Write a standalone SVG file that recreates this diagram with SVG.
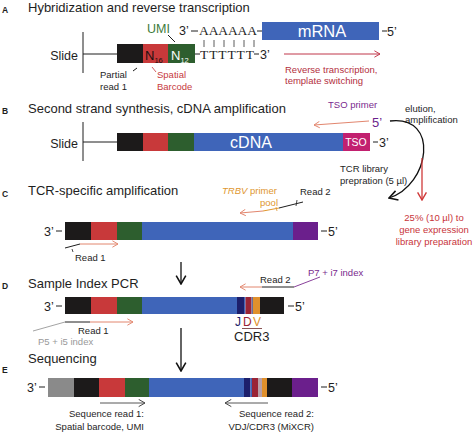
<svg xmlns="http://www.w3.org/2000/svg" width="474" height="434" viewBox="0 0 474 434">
<defs>
<style>
text{font-family:"Liberation Sans",Arial,sans-serif;fill:#1e1e1e}
.t{font-size:13px}
.L{font-size:8.5px;font-weight:bold}
.s{font-size:9.5px}
.m{font-size:12.5px}
.serif{font-family:"Liberation Serif","Times New Roman",serif;font-size:13.5px}
.ln{fill:none;stroke:#1e1e1e;stroke-width:1}
.bk{fill:#1c1a1a}.rd{fill:#c8393a}.gn{fill:#2d5e2e}.bl{fill:#3f65b9}.pu{fill:#6b1f8c}.mg{fill:#c2206f}.nv{fill:#1d1f6b}.dr{fill:#9a2436}.or{fill:#e0902c}.gy{fill:#8a8a8a}
.sal{fill:none;stroke:#e2866e;stroke-width:1}
</style>
<marker id="aSal" viewBox="0 0 10 10" refX="9" refY="5" markerWidth="8" markerHeight="8" markerUnits="userSpaceOnUse" orient="auto"><path d="M2,1 L9,5 L2,9" fill="none" stroke="#e2866e" stroke-width="1.2"/></marker>
<marker id="aRed" viewBox="0 0 10 10" refX="9" refY="5" markerWidth="8" markerHeight="8" markerUnits="userSpaceOnUse" orient="auto"><path d="M2,1 L9,5 L2,9" fill="none" stroke="#c0374a" stroke-width="1.2"/></marker>
<marker id="aRed2" viewBox="0 0 10 10" refX="9" refY="5" markerWidth="11" markerHeight="11" markerUnits="userSpaceOnUse" orient="auto"><path d="M2,1 L9,5 L2,9" fill="none" stroke="#d03a3a" stroke-width="1.3"/></marker>
<marker id="aBk" viewBox="0 0 10 10" refX="9" refY="5" markerWidth="12" markerHeight="12" markerUnits="userSpaceOnUse" orient="auto"><path d="M2,1 L9,5 L2,9" fill="none" stroke="#111" stroke-width="1.3"/></marker>
<marker id="aGy" viewBox="0 0 10 10" refX="9" refY="5" markerWidth="9" markerHeight="9" markerUnits="userSpaceOnUse" orient="auto"><path d="M2,1 L9,5 L2,9" fill="none" stroke="#444" stroke-width="1.1"/></marker>
</defs>
<rect width="474" height="434" fill="#fff"/>

<!-- Panel A -->
<g id="panelA">
<text class="L" x="2" y="13">A</text>
<text class="t" x="28" y="12">Hybridization and reverse transcription</text>
<text class="m" x="78" y="60" text-anchor="end">Slide</text>
<line class="ln" x1="83" y1="32" x2="83" y2="73" stroke-width="1.5"/>
<line class="ln" x1="83" y1="54" x2="117" y2="54"/>
<rect class="bk" x="117" y="44" width="26" height="19"/>
<rect class="rd" x="143" y="44" width="25" height="19"/>
<rect class="gn" x="168" y="44" width="27" height="19"/>
<text x="145" y="60" style="font-size:13px;fill:#1a1010">N<tspan style="font-size:7.5px" dy="3">16</tspan></text>
<text x="171" y="60" style="font-size:13px;fill:#fff">N<tspan style="font-size:7.5px;fill:#fff" dy="3">12</tspan></text>
<text x="147" y="33" style="font-size:12.5px;fill:#3b7a3a">UMI</text>
<line class="ln" x1="168" y1="35" x2="175" y2="42" stroke-width="0.8"/>
<text x="100" y="78" class="s">Partial</text>
<text x="100" y="90" class="s">read 1</text>
<line class="ln" x1="133" y1="71" x2="137" y2="68" stroke-width="0.8"/>
<text x="157" y="78" class="s" style="fill:#c73a3e">Spatial</text>
<text x="157" y="90" class="s" style="fill:#c73a3e">Barcode</text>
<line x1="152" y1="67" x2="156" y2="72" stroke="#c73a3e" stroke-width="0.8"/>
<text x="179" y="35" class="m">3’</text>
<line class="ln" x1="191" y1="31" x2="198" y2="31"/>
<text x="199" y="35" class="serif" textLength="58">AAAAAA</text>
<line class="ln" x1="257" y1="31" x2="262" y2="31"/>
<g stroke="#333" stroke-width="0.8">
<line x1="204" y1="40" x2="204" y2="47"/><line x1="214" y1="40" x2="214" y2="47"/><line x1="224" y1="40" x2="224" y2="47"/><line x1="234" y1="40" x2="234" y2="47"/><line x1="244" y1="40" x2="244" y2="47"/><line x1="254" y1="40" x2="254" y2="47"/>
</g>
<line class="ln" x1="195" y1="54" x2="200" y2="54"/>
<text x="200" y="59" class="serif" textLength="54">TTTTTT</text>
<line class="ln" x1="254" y1="54" x2="259" y2="54"/>
<text x="260" y="59" class="m">3’</text>
<rect class="bl" x="262" y="22" width="117" height="18"/>
<text x="322" y="37" text-anchor="middle" style="font-size:16.5px;fill:#fff">mRNA</text>
<line class="ln" x1="382" y1="31" x2="387" y2="31"/>
<text x="387" y="36" class="m">5’</text>
<line x1="284" y1="54" x2="380" y2="54" stroke="#c0374a" stroke-width="1" marker-end="url(#aRed)"/>
<text x="285" y="73" class="s" style="fill:#b32f40">Reverse transcription,</text>
<text x="285" y="84" class="s" style="fill:#b32f40">template switching</text>
</g>

<!-- Panel B -->
<g id="panelB">
<text class="L" x="2" y="114">B</text>
<text class="t" x="28" y="113">Second strand synthesis, cDNA amplification</text>
<text class="m" x="78" y="148" text-anchor="end">Slide</text>
<line class="ln" x1="83" y1="122" x2="83" y2="161" stroke-width="1.5"/>
<line class="ln" x1="83" y1="142" x2="117" y2="142"/>
<rect class="bk" x="117" y="133" width="26" height="18"/>
<rect class="rd" x="143" y="133" width="25" height="18"/>
<rect class="gn" x="168" y="133" width="26" height="18"/>
<rect class="bl" x="194" y="133" width="149" height="18"/>
<rect class="mg" x="343" y="133" width="27" height="18"/>
<text x="251" y="148" text-anchor="middle" style="font-size:16px;fill:#fff">cDNA</text>
<text x="356" y="146" text-anchor="middle" style="font-size:10.5px;fill:#fff">TSO</text>
<line class="ln" x1="373" y1="142" x2="378" y2="142"/>
<text x="379" y="147" class="m">3’</text>
<text x="328" y="108" class="s" style="fill:#7a2a8e">TSO primer</text>
<text x="372" y="127" style="font-size:13px;fill:#6b1f8c">5’</text>
<line x1="369" y1="121" x2="314" y2="125" class="sal" marker-end="url(#aSal)"/>
<text x="405" y="112" class="s">elution,</text>
<text x="405" y="123" class="s">amplification</text>
<text x="340" y="172" class="s">TCR library</text>
<text x="340" y="184" class="s">prepration (5 µl)</text>
<text x="434" y="221" class="s" text-anchor="middle" style="fill:#c8343a">25% (10 µl) to</text>
<text x="434" y="233" class="s" text-anchor="middle" style="fill:#c8343a">gene expression</text>
<text x="434" y="245" class="s" text-anchor="middle" style="fill:#c8343a">library preparation</text>
</g>

<!-- Panel C -->
<g id="panelC">
<text class="L" x="2" y="197">C</text>
<text class="t" x="28" y="195">TCR-specific amplification</text>
<text class="m" x="44" y="236">3’</text>
<line class="ln" x1="56" y1="231" x2="62" y2="231"/>
<rect class="bk" x="65" y="222" width="26" height="18"/>
<rect class="rd" x="91" y="222" width="26" height="18"/>
<rect class="gn" x="117" y="222" width="25" height="18"/>
<rect class="bl" x="142" y="222" width="151" height="18"/>
<rect class="pu" x="293" y="222" width="25" height="18"/>
<line class="ln" x1="321" y1="231" x2="327" y2="231"/>
<text x="328" y="236" class="m">5’</text>
<text x="75" y="261" class="s">Read 1</text>
<text x="222" y="194" class="s" style="fill:#e0962e"><tspan font-style="italic">TRBV</tspan> primer</text>
<text x="278" y="206" class="s" text-anchor="end" style="fill:#e0962e">pool</text>
<text x="300" y="195" class="s">Read 2</text>
</g>

<!-- Panel D -->
<g id="panelD">
<text class="L" x="2" y="289">D</text>
<text class="t" x="28" y="288">Sample Index PCR</text>
<text class="m" x="44" y="311">3’</text>
<line class="ln" x1="56" y1="306" x2="62" y2="306"/>
<rect class="bk" x="65" y="297" width="26" height="17"/>
<rect class="rd" x="91" y="297" width="26" height="17"/>
<rect class="gn" x="117" y="297" width="25" height="17"/>
<rect class="bl" x="142" y="297" width="95" height="17"/>
<rect class="nv" x="237" y="297" width="7" height="17"/>
<rect class="bl" x="244" y="297" width="1.5" height="17"/>
<rect class="dr" x="245.5" y="297" width="6" height="17"/>
<rect fill="#6a6f9a" x="251.5" y="297" width="1.5" height="17"/>
<rect class="or" x="253" y="297" width="7" height="17"/>
<rect class="bk" x="260" y="297" width="24" height="17"/>
<line class="ln" x1="288" y1="306" x2="294" y2="306"/>
<text x="295" y="311" class="m">5’</text>
<text x="235" y="326" style="font-size:12px;fill:#1d1f6b">J</text>
<text x="243" y="326" style="font-size:12px;fill:#9a2436">D</text>
<text x="253" y="326" style="font-size:12px;fill:#e0902c">V</text>
<line x1="242" y1="328.5" x2="262" y2="328.5" stroke="#7a4040" stroke-width="0.9"/>
<text x="234" y="341" style="font-size:13px">CDR3</text>
<text x="78" y="334" class="s">Read 1</text>
<text x="38" y="345" class="s" style="fill:#999">P5 + i5 index</text>
<text x="260" y="283" class="s">Read 2</text>
<text x="308" y="276" class="s" style="fill:#7a2a8e">P7 + i7 index</text>
</g>

<!-- Panel E -->
<g id="panelE">
<text class="L" x="2" y="373">E</text>
<text class="t" x="28" y="363">Sequencing</text>
<text class="m" x="27" y="392">3’</text>
<line class="ln" x1="39" y1="387" x2="45" y2="387"/>
<rect class="gy" x="48" y="378" width="26" height="19"/>
<rect class="bk" x="74" y="378" width="25" height="19"/>
<rect class="rd" x="99" y="378" width="26" height="19"/>
<rect class="gn" x="125" y="378" width="24" height="19"/>
<rect class="bl" x="149" y="378" width="95" height="19"/>
<rect class="nv" x="244" y="378" width="6.5" height="19"/>
<rect class="bl" x="250.5" y="378" width="1.5" height="19"/>
<rect class="dr" x="252" y="378" width="6" height="19"/>
<rect fill="#b9a0a8" x="258" y="378" width="4" height="19"/>
<rect class="or" x="262" y="378" width="5" height="19"/>
<rect class="bk" x="267" y="378" width="25" height="19"/>
<rect class="pu" x="292" y="378" width="26" height="19"/>
<line class="ln" x1="321" y1="387" x2="327" y2="387"/>
<text x="328" y="392" class="m">5’</text>
<text x="144" y="417" class="s" text-anchor="end">Sequence read 1:</text>
<text x="144" y="430" class="s" text-anchor="end">Spatial barcode, UMI</text>
<text x="314" y="417" class="s" text-anchor="end">Sequence read 2:</text>
<text x="314" y="430" class="s" text-anchor="end">VDJ/CDR3 (MiXCR)</text>
</g>

<!-- Connectors -->
<g id="connectors">
<path d="M390,121 C440,115 430,185 389,198" fill="none" stroke="#111" stroke-width="1.3" marker-end="url(#aBk)"/>
<line x1="422" y1="158" x2="422" y2="200" stroke="#d03a3a" stroke-width="1.3" marker-end="url(#aRed2)"/>
<!-- C read 1 -->
<line class="ln" x1="65" y1="248" x2="80" y2="244" stroke-width="0.9"/>
<line x1="72" y1="249" x2="73" y2="252" stroke="#1e1e1e" stroke-width="0.8"/>
<line x1="80" y1="244" x2="118" y2="244" class="sal" marker-end="url(#aSal)"/>
<!-- C TRBV primer -->
<line class="ln" x1="303" y1="202" x2="279" y2="208" stroke-width="0.9"/>
<line x1="297" y1="200" x2="296" y2="206" stroke="#1e1e1e" stroke-width="0.8"/>
<path d="M279,208 L263,211" fill="none" stroke="#e0962e" stroke-width="1"/>
<line x1="276" y1="207" x2="277" y2="211" stroke="#e0962e" stroke-width="0.8"/>
<line x1="263" y1="211" x2="240" y2="213" class="sal" marker-end="url(#aSal)"/>
<!-- C->D -->
<line x1="181" y1="262" x2="181" y2="284" stroke="#111" stroke-width="1.3" marker-end="url(#aBk)"/>
<!-- D read 1 -->
<line x1="33" y1="331" x2="65" y2="322" stroke="#999" stroke-width="0.9"/>
<line class="ln" x1="65" y1="322" x2="90" y2="322"/>
<line x1="90" y1="322" x2="133" y2="322" class="sal" marker-end="url(#aSal)"/>
<!-- D read 2 -->
<line x1="320" y1="277" x2="294" y2="287" stroke="#7a2a8e" stroke-width="0.9"/>
<line class="ln" x1="294" y1="287" x2="262" y2="287"/>
<line x1="262" y1="287" x2="240" y2="287" class="sal" marker-end="url(#aSal)"/>
<!-- D->E -->
<line x1="181" y1="328" x2="181" y2="371" stroke="#111" stroke-width="1.3" marker-end="url(#aBk)"/>
<!-- E reads -->
<line x1="100" y1="403" x2="145" y2="403" stroke="#444" stroke-width="0.9" marker-end="url(#aGy)"/>
<line x1="268" y1="403" x2="225" y2="403" stroke="#444" stroke-width="0.9" marker-end="url(#aGy)"/>
</g>
</svg>
